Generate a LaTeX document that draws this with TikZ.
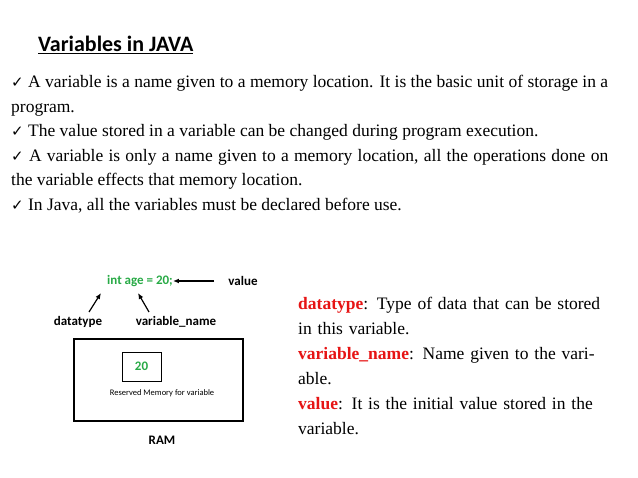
\documentclass[tikz,border=0pt]{standalone}
\usepackage{fontspec}
\usetikzlibrary{arrows.meta}
\setmainfont{Liberation Serif}
\newfontfamily\calfnt{Carlito}
\newfontfamily\djfnt{DejaVu Sans}
\definecolor{jgreen}{RGB}{40,170,70}
\definecolor{jred}{RGB}{230,20,20}
\begin{document}
\begin{tikzpicture}[x=1pt,y=-1pt,
  lbl/.style={font=\calfnt\bfseries\fontsize{13}{15}\selectfont,inner sep=0pt},
  arr/.style={-{Latex[length=6pt,width=5pt]},line width=1.2pt}]
\useasboundingbox (0,0) rectangle (638,478);
\node[anchor=west,inner sep=0pt,font=\calfnt\bfseries\fontsize{22}{26}\selectfont] (title) at (38,45) {\underline{Variables in JAVA}};
\node[anchor=north west,inner sep=0pt,text width=597pt,align=justify,font=\fontsize{17.5}{24.5}\selectfont] (body) at (11,75)
{{\djfnt\fontsize{15}{15}\selectfont ✓} A variable is a name given to a memory location. It is the basic unit of storage in a program.\\
{\djfnt\fontsize{15}{15}\selectfont ✓} The value stored in a variable can be changed during program execution.\\
{\djfnt\fontsize{15}{15}\selectfont ✓} A variable is only a name given to a memory location, all the operations done on the variable effects that memory location.\\
{\djfnt\fontsize{15}{15}\selectfont ✓} In Java, all the variables must be declared before use.};
\node[lbl,text=jgreen] (code) at (140,281) {int age = 20;};
\node[lbl] (value) at (243,281) {value};
\node[lbl] (dt) at (78,322) {datatype};
\node[lbl] (vn) at (176,322) {variable\_name};
\coordinate (vs) at (214,281);
\draw[arr] (vs) -- (code.east);
\coordinate (d1) at (89,312); \coordinate (d2) at (101,293);
\draw[arr] (d1) -- (d2);
\coordinate (v1) at (149,312); \coordinate (v2) at (138,293);
\draw[arr] (v1) -- (v2);
\draw[line width=1.2pt] (74,339) rectangle (243,421);
\node[draw,line width=0.8pt,minimum width=39pt,minimum height=29pt,inner sep=0pt,text=jgreen,font=\calfnt\bfseries\fontsize{13}{15}\selectfont] (mem) at (141.5,366.5) {20};
\node[inner sep=0pt,font=\calfnt\fontsize{8.5}{10}\selectfont] (res) at (162,393) {Reserved Memory for variable};
\node[lbl] (ram) at (162,440) {RAM};
\node[anchor=north west,inner sep=0pt,text width=312pt,align=left,font=\fontsize{17.5}{25}\selectfont] (desc) at (298,297)
{\textcolor{jred}{\bfseries datatype}: Type of data that can be stored in this variable.\\
\textcolor{jred}{\bfseries variable\_name}: Name given to the variable.\\
\textcolor{jred}{\bfseries value}: It is the initial value stored in the variable.};
\end{tikzpicture}
\end{document}
